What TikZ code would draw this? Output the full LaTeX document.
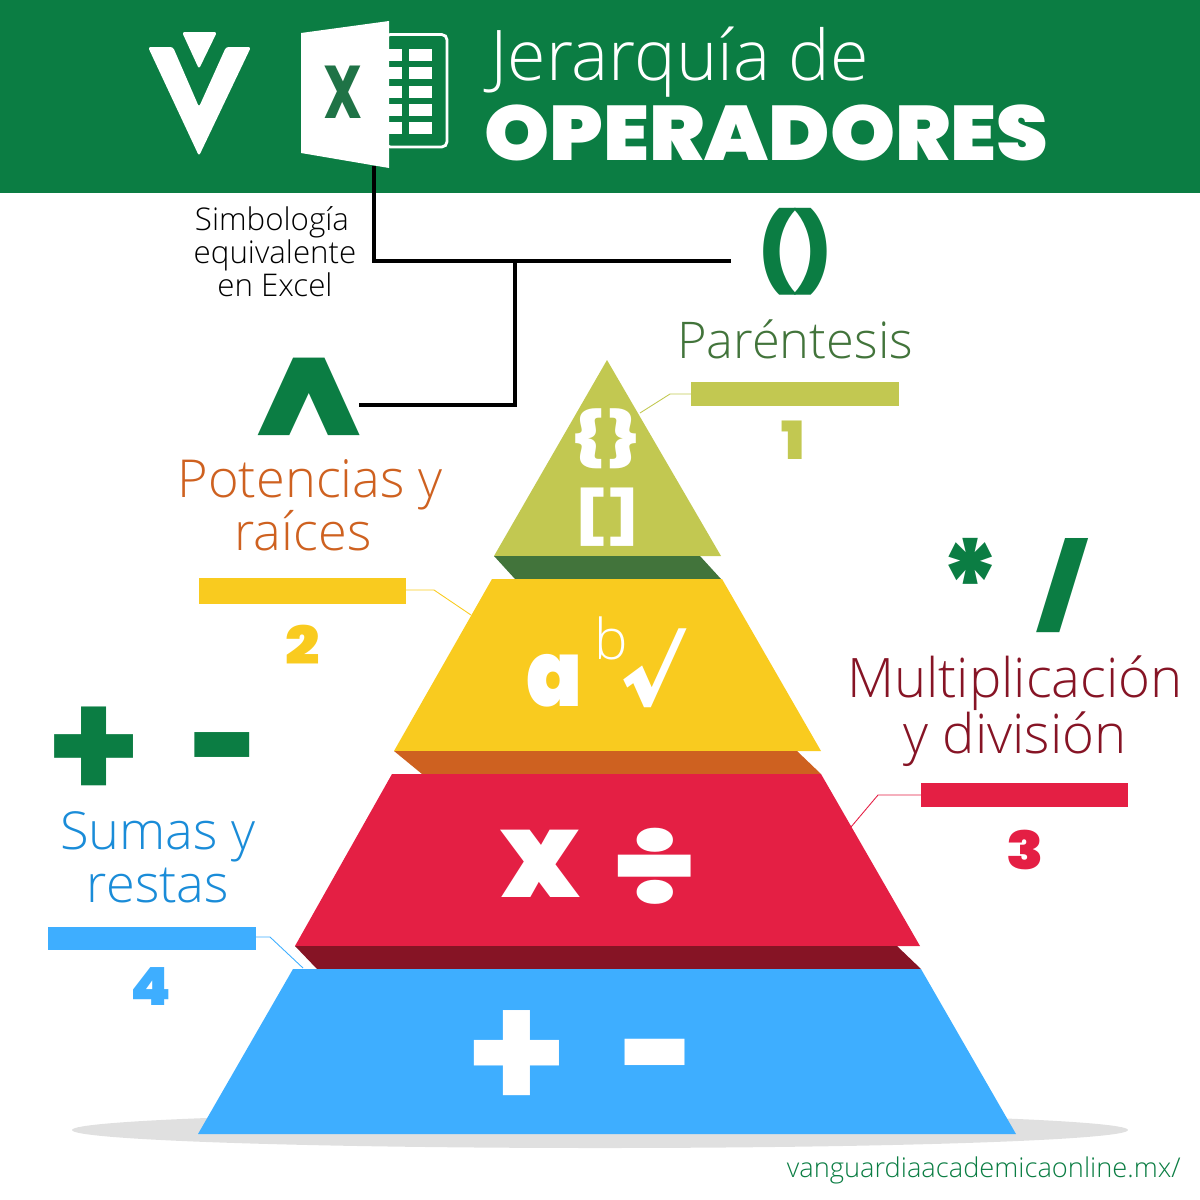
\documentclass[tikz,border=0pt]{standalone}
\usepackage{fontspec}
\usepackage{graphicx}
\setmainfont{Open Sans}[UprightFont=* Light]
\newfontfamily\heavyfont{Poppins}[UprightFont=* Black]
\newfontfamily\plusfont{Poppins}[UprightFont=* Bold]
\definecolor{hdgreen}{HTML}{0B7D43}
\definecolor{xgreen}{HTML}{1F7346}
\definecolor{olive}{HTML}{C2C851}
\definecolor{darkolive}{HTML}{42743B}
\definecolor{yellowp}{HTML}{F9CB1F}
\definecolor{orangep}{HTML}{CE6120}
\definecolor{redp}{HTML}{E41F44}
\definecolor{maroonp}{HTML}{861425}
\definecolor{bluep}{HTML}{3EAEFF}
\definecolor{sumblue}{HTML}{1A8CD8}
\tikzset{
    txt/.style={inner sep=0pt,align=center,font=\fontsize{29.8}{30}\selectfont},
    num/.style={inner sep=0pt,font=\heavyfont\fontsize{30}{30}\selectfont},
    glyph/.style={inner sep=0pt,text=white,font=\heavyfont\fontsize{62}{62}\selectfont},
    leader/.style={line width=0.5pt}
}
\begin{document}
\begin{tikzpicture}[x=0.02cm,y=-0.02cm]
    \useasboundingbox (0,0) rectangle (1200,1200);
    \fill [hdgreen] (0,0) rectangle (1200,193);

    \fill [white,rounded corners=1.5pt] (148,47) -- (173,47) -- (199,107) -- (226,47) -- (251,47) -- (199,156) -- cycle;
    \fill [white,rounded corners=1.5pt] (182,32) -- (217,32) -- (199,69) -- cycle;

    \draw [white,line width=1.6pt,rounded corners=3pt] (385,34.5) rectangle (447,147);
    \foreach \y in {49,67,86,104,122} {
        \fill [white] (385,\y) rectangle (402,\y+12);
        \fill [white] (409,\y) rectangle (432,\y+12);
    }
    \fill [white] (301,33) -- (389,21) -- (389,168) -- (301,153) -- cycle;
    \coordinate (excel) at (374,166);
    \node [inner sep=0pt,text=xgreen,font=\plusfont\fontsize{38}{38}\selectfont] (excelx) at (343,92) {\scalebox{0.82}[1.12]{X}};

    \node [inner sep=0pt,text=white,font=\fontsize{39.8}{40}\selectfont,anchor=base west] (title) at (490,80) {Jerarquía de};
    \node [inner sep=0pt,text=white,font=\heavyfont\fontsize{44}{44}\selectfont,anchor=base west] (subtitle) at (484,160) {\scalebox{1.07}[1]{OPERADORES}};

    \node [txt,text=black,font=\fontsize{17.8}{17.3}\selectfont] (simb) at (275,252) {Simbología\hspace*{0.12cm}\\equivalente\\en Excel};

    \fill [black!12] (600,1130) ellipse (528 and 18);

    \fill [olive] (607,360) -- (721,556) -- (494,556) -- cycle;
    \fill [darkolive] (494,556) -- (700,556) -- (721,579) -- (515,579) -- cycle;
    \fill [yellowp] (492,579) -- (722,579) -- (821,751) -- (394,751) -- cycle;
    \fill [orangep] (394,751) -- (797,751) -- (821,774) -- (422,774) -- cycle;
    \fill [redp] (392,774) -- (821,774) -- (920,946) -- (295,946) -- cycle;
    \fill [maroonp] (295,946) -- (897,946) -- (921,969) -- (317,969) -- cycle;
    \fill [bluep] (293,969) -- (921,969) -- (1016,1134) -- (198,1134) -- cycle;

    \fill [olive] (691,382) rectangle (899,406);
    \fill [yellowp] (199,578) rectangle (406,604);
    \fill [redp] (921,783) rectangle (1128,807);
    \fill [bluep] (48,927) rectangle (256,950);
    \draw [leader,olive] (691,394) -- (670,394) -- (640,413);
    \draw [leader,yellowp] (406,590) -- (434,590) -- (471,615);
    \draw [leader,redp] (921,795) -- (878,795) -- (851,827);
    \draw [leader,bluep] (256,937) -- (270,937) -- (303,968);

    \node [num,text=olive] (n1) at (793,440) {\scalebox{1.12}[1]{1}};
    \node [num,text=yellowp] (n2) at (303,645) {\scalebox{1.15}[1]{2}};
    \node [num,text=redp] (n3) at (1025,850) {\scalebox{1.15}[1]{3}};
    \node [num,text=bluep] (n4) at (151,987) {\scalebox{1.1}[1]{4}};

    \node [txt,text=darkolive,font=\fontsize{28.8}{30}\selectfont] (par) at (795,339) {Paréntesis};
    \node [txt,text=orangep] (pot) at (310,505) {Potencias y\\raíces\hspace*{0.28cm}};
    \node [txt,text=maroonp,font=\fontsize{31}{30}\selectfont] (mul) at (1015,711) {Multiplicación\\y división};
    \node [txt,text=sumblue] (sum) at (158,857) {Sumas y\\restas};
    \node [inner sep=0pt,text=hdgreen,font=\fontsize{15.5}{16}\selectfont,anchor=east] (url) at (1181,1170) {vanguardiaacademicaonline.mx/};

    \node [glyph,text=hdgreen,font=\heavyfont\fontsize{44}{44}\selectfont] (paren) at (795,252) {()};
    \node [glyph,text=hdgreen,font=\heavyfont\fontsize{82}{82}\selectfont] (caret) at (309,408) {\scalebox{1}[0.98]{\^{}}};
    \node [glyph,text=hdgreen] (star) at (970,583) {\scalebox{1}[1.1]{*}};
    \node [glyph,text=hdgreen] (slash) at (1062,586) {\scalebox{1}[0.75]{/}};
    \node [glyph,text=hdgreen,font=\plusfont\fontsize{88}{88}\selectfont] (plus) at (94,754) {+};
    \node [glyph,text=hdgreen] (minus) at (226,762) {\scalebox{1.08}[1.25]{-}};

    \node [glyph,font=\heavyfont\fontsize{40}{40}\selectfont] (brace) at (606,439) {\scalebox{1}[0.76]{\{\}}};
    \node [glyph,font=\heavyfont\fontsize{40}{40}\selectfont] (brack) at (607,517) {\scalebox{0.85}[0.74]{[]}};
    \node [glyph,font=\heavyfont\fontsize{52}{52}\selectfont] (a) at (554,681) {\scalebox{0.9}[1]{a}};
    \node [glyph,font=\fontsize{32}{32}\selectfont] (b) at (611,638) {b};
    \node [glyph,font=\heavyfont\fontsize{50}{50}\selectfont] (root) at (656,668) {\scalebox{0.74}[0.93]{√}};
    \node [glyph,font=\heavyfont\fontsize{68}{68}\selectfont] (times) at (540,864) {x};
    \node [glyph,font=\heavyfont\fontsize{60}{60}\selectfont] (div) at (655,866) {\scalebox{1.35}[1.04]{÷}};
    \node [glyph,font=\plusfont\fontsize{95}{95}\selectfont] (plusw) at (517,1061) {+};
    \node [glyph] (minusw) at (660,1070) {\scalebox{1.18}[1.32]{-}};

    \coordinate (corner1) at (374,261);
    \coordinate (paren-end) at (731,261);
    \coordinate (branch) at (515,261);
    \coordinate (corner2) at (515,405);
    \coordinate (caret-end) at (359,405);
    \draw [line width=2.3pt] (excel) -- (corner1) -- (paren-end);
    \draw [line width=2.3pt] (branch) -- (corner2) -- (caret-end);
\end{tikzpicture}
\end{document}
